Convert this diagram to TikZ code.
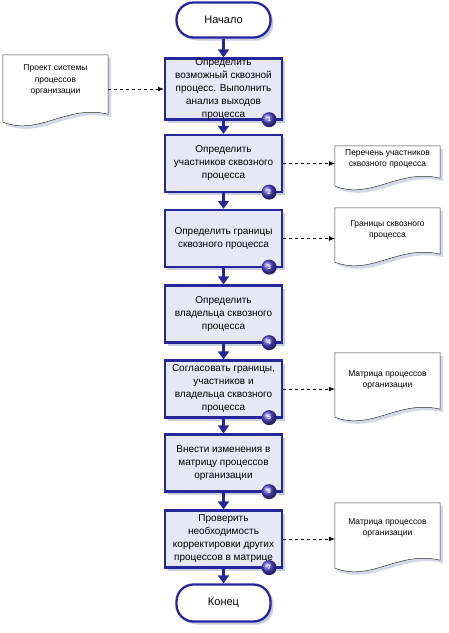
\documentclass[tikz,border=0pt]{standalone}
\usepackage{fontspec}
\setmainfont{Liberation Sans}
\usepackage{tikz}
\usetikzlibrary{arrows.meta,shadows,backgrounds}

\definecolor{flowblue}{RGB}{38,38,155}
\definecolor{boxfill}{RGB}{230,232,246}
\definecolor{shadowgray}{RGB}{202,206,226}
\definecolor{badgeblue}{RGB}{80,70,210}

\tikzset{
  procbox/.style={draw=flowblue, line width=2.3pt, fill=boxfill, minimum width=117pt, minimum height=57pt, inner sep=0pt, align=center, font=\fontsize{10}{13}\selectfont, drop shadow={shadow xshift=3pt, shadow yshift=-3pt, fill=shadowgray, opacity=1}},
  term/.style={draw=flowblue, line width=2.3pt, fill=white, rounded corners=17pt, minimum width=94pt, minimum height=35pt, font=\fontsize{11}{13}\selectfont, drop shadow={shadow xshift=3pt, shadow yshift=-3pt, fill=shadowgray, opacity=1}},
  docnode/.style={minimum width=105pt, inner sep=0pt, align=center, font=\fontsize{8.5}{11.5}\selectfont},
  badge/.style={circle, shading=ball, ball color=badgeblue, minimum size=15pt, inner sep=0pt, text=white, font=\fontsize{6.5}{7}\selectfont\bfseries},
  flow/.style={draw=flowblue, line width=2.6pt, -{Triangle[width=11pt,length=8pt]}},
  dataflow/.style={dashed, line width=0.7pt, -{Latex[length=6pt,width=5pt]}}
}

\newcommand{\docframe}[2]{%
  \draw[black!80, line width=0.5pt, fill=white, drop shadow={shadow xshift=3pt, shadow yshift=-3pt, fill=shadowgray, opacity=0.8}]
    (#1.north west) -- (#1.north east) -- ([yshift=-#2+8pt]#1.south east)
    .. controls +(-42pt,10pt) and +(37pt,-14pt) .. ([yshift=-#2]#1.south west) -- cycle;}

\begin{document}
\begin{tikzpicture}[x=1pt, y=-1pt]

\useasboundingbox (0,0) rectangle (448,633);

\node[term] (start) at (223.5, 20) {Начало};

\node[procbox] (b1) at (223.5, 89) {Определить\\возможный сквозной\\процесс. Выполнить\\анализ выходов\\процесса};
\node[procbox] (b2) at (223.5, 163.5) {Определить\\участников сквозного\\процесса};
\node[procbox] (b3) at (223.5, 238.5) {Определить границы\\сквозного процесса};
\node[procbox] (b4) at (223.5, 314) {Определить\\владельца сквозного\\процесса};
\node[procbox] (b5) at (223.5, 389) {Согласовать границы,\\участников и\\владельца сквозного\\процесса};
\node[procbox] (b6) at (223.5, 463) {Внести изменения в\\матрицу процессов\\организации};
\node[procbox] (b7) at (223.5, 539) {Проверить\\необходимость\\корректировки других\\процессов в матрице};

\node[term, minimum height=37pt] (end) at (223.5, 603) {Конец};

\foreach \i in {1,...,7}
  \node[badge] (n\i) at ([xshift=-14pt, yshift=1pt]b\i.south east) {\i};

\foreach \a/\b in {start/b1, b1/b2, b2/b3, b3/b4, b4/b5, b5/b6, b6/b7, b7/end}
  \draw[flow] (\a) -- (\b);

\node[docnode, minimum height=50pt] (d0) at (55.5, 80) {Проект системы\\процессов\\организации};
\node[docnode, minimum height=26pt] (d2) at (387.5, 159) {Перечень участников\\сквозного процесса};
\node[docnode, minimum height=44pt] (d3) at (387.5, 230) {Границы сквозного\\процесса};
\node[docnode, minimum height=54pt] (d5) at (387.5, 380) {Матрица процессов\\организации};
\node[docnode, minimum height=50pt] (d7) at (387.5, 528) {Матрица процессов\\организации};

\begin{scope}[on background layer]
\docframe{d0}{17pt}
\docframe{d2}{14pt}
\docframe{d3}{10pt}
\docframe{d5}{10pt}
\docframe{d7}{15pt}
\end{scope}

\draw[dataflow] (d0.east |- b1.west) -- (b1.west);
\draw[dataflow] (b2.east) -- (b2.east -| d2.west);
\draw[dataflow] (b3.east) -- (b3.east -| d3.west);
\draw[dataflow] (b5.east) -- (b5.east -| d5.west);
\draw[dataflow] (b7.east) -- (b7.east -| d7.west);

\end{tikzpicture}
\end{document}
